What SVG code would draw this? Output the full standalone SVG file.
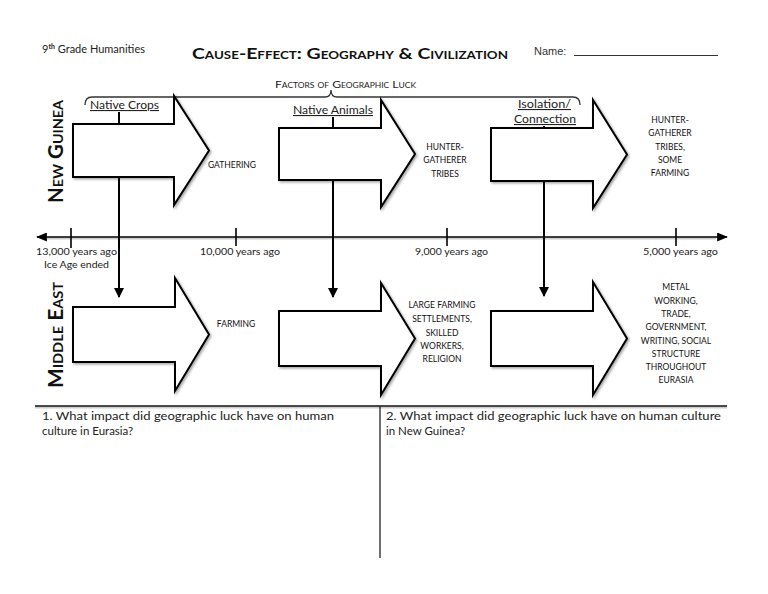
<svg xmlns="http://www.w3.org/2000/svg" width="768" height="594" viewBox="0 0 768 594">
<defs>
<style>
.bg{fill:#ffffff}
.arr{fill:#ffffff;stroke:#000;stroke-width:2;stroke-linejoin:miter;filter:url(#sh)}
.conn{stroke:#000;stroke-width:2;fill:none}
.tick{stroke:#000;stroke-width:1.6}
.lab{font-family:Lato,"Open Sans",sans-serif;font-size:8.5px;fill:#111;text-anchor:middle;letter-spacing:0px}
.tl{font-family:Lato,"Open Sans",sans-serif;font-size:9.5px;fill:#222}
.hd{font-family:Lato,"Open Sans",sans-serif;font-size:11px;fill:#222;text-decoration:underline}
.q{font-family:Lato,"Open Sans",sans-serif;font-size:11.5px;fill:#222}
.side{font-family:Lato,"Open Sans",sans-serif;font-size:20px;font-weight:bold;font-variant:small-caps;fill:#111;text-anchor:middle}
</style>
<filter id="sh" x="-10%" y="-10%" width="130%" height="130%">
<feDropShadow dx="1.5" dy="1.5" stdDeviation="0.8" flood-color="#000" flood-opacity="0.35"/>
</filter>
<marker id="ah" viewBox="0 0 10 10" refX="9" refY="5" markerWidth="10" markerHeight="10" markerUnits="userSpaceOnUse" orient="auto">
<path d="M0,0 L10,5 L0,10 Z" fill="#000"/>
</marker>
<marker id="th" viewBox="0 0 12 10" refX="11" refY="5" markerWidth="12" markerHeight="9" markerUnits="userSpaceOnUse" orient="auto-start-reverse">
<path d="M0,0 L12,5 L0,10 Z" fill="#000"/>
</marker>
</defs>
<rect class="bg" x="0" y="0" width="768" height="594"/>

<g id="header">
<text x="42" y="53" font-family="Lato,'Open Sans',sans-serif" font-size="11" fill="#222">9<tspan font-size="7" dy="-4" font-weight="bold">th</tspan><tspan dy="4"> Grade Humanities</tspan></text>
<text x="192" y="59" font-family="Lato,'Open Sans',sans-serif" font-size="16" font-weight="bold" font-variant="small-caps" fill="#111" textLength="316" lengthAdjust="spacingAndGlyphs">Cause-Effect: Geography &amp; Civilization</text>
<text x="534" y="55" font-family="'Liberation Sans',Arial,sans-serif" font-size="11" fill="#333">Name:</text>
<line x1="574" y1="55.5" x2="718" y2="55.5" stroke="#333" stroke-width="1"/>
</g>

<g id="brace">
<text x="345.5" y="88" font-family="Lato,'Open Sans',sans-serif" font-size="10" font-variant="small-caps" fill="#222" text-anchor="middle" textLength="141" lengthAdjust="spacingAndGlyphs">Factors of Geographic Luck</text>
<path d="M85,105 Q85,97 92,97 L325,97 Q331,97 331,90 Q331,97 337,97 L573,97 Q580,97 580,105" fill="none" stroke="#333" stroke-width="1.3"/>
</g>

<g id="labels">
<text class="side" transform="translate(63,151.5) rotate(-90)" textLength="103" lengthAdjust="spacingAndGlyphs">New Guinea</text>
<text class="side" transform="translate(63,335) rotate(-90)" textLength="106" lengthAdjust="spacingAndGlyphs">Middle East</text>
</g>

<g id="connectors">
<line class="conn" x1="119" y1="112" x2="119" y2="297" marker-end="url(#ah)"/>
<line class="conn" x1="333" y1="117" x2="333" y2="297" marker-end="url(#ah)"/>
<line class="conn" x1="544" y1="126" x2="544" y2="296" marker-end="url(#ah)"/>
</g>

<g id="timeline">
<line x1="44" y1="238.5" x2="716" y2="238.5" stroke="#000" stroke-opacity="0.2" stroke-width="2"/>
<line x1="37" y1="237" x2="727" y2="237" stroke="#000" stroke-width="1.6" marker-start="url(#th)" marker-end="url(#th)"/>
<line class="tick" x1="71" y1="228" x2="71" y2="248"/>
<line class="tick" x1="236" y1="228" x2="236" y2="246"/>
<line class="tick" x1="447" y1="228" x2="447" y2="246"/>
<line class="tick" x1="676" y1="228" x2="676" y2="246"/>
<text class="tl" x="36" y="255" textLength="81" lengthAdjust="spacingAndGlyphs">13,000 years ago</text>
<text class="tl" x="44" y="268" textLength="65" lengthAdjust="spacingAndGlyphs">Ice Age ended</text>
<text class="tl" x="200" y="255" textLength="80" lengthAdjust="spacingAndGlyphs">10,000 years ago</text>
<text class="tl" x="415" y="255" textLength="73" lengthAdjust="spacingAndGlyphs">9,000 years ago</text>
<text class="tl" x="643" y="255" textLength="75" lengthAdjust="spacingAndGlyphs">5,000 years ago</text>
</g>

<g id="ng-crops">
<polygon class="arr" points="73,124 174,124 174,96 209,150.5 174,205 174,177 73,177"/>
<text class="hd" x="90" y="109" textLength="69" lengthAdjust="spacingAndGlyphs">Native Crops</text>
<text class="lab" x="232" y="168">GATHERING</text>
</g>
<g id="ng-animals">
<polygon class="arr" points="279,128 381,128 381,100 415,154 381,207 381,180 279,180"/>
<text class="hd" x="293" y="114" textLength="80" lengthAdjust="spacingAndGlyphs">Native Animals</text>
<text class="lab" x="445" y="150">HUNTER-</text>
<text class="lab" x="445" y="163">GATHERER</text>
<text class="lab" x="445" y="177">TRIBES</text>
</g>
<g id="ng-isolation">
<polygon class="arr" points="491,128 593,128 593,100 627,154.5 593,208 593,181 491,181"/>
<text class="hd" x="544.5" y="108" text-anchor="middle" textLength="53" lengthAdjust="spacingAndGlyphs">Isolation/</text>
<text class="hd" x="545" y="123" text-anchor="middle" textLength="62" lengthAdjust="spacingAndGlyphs">Connection</text>
<text class="lab" x="670" y="123">HUNTER-</text>
<text class="lab" x="670" y="136">GATHERER</text>
<text class="lab" x="670" y="150">TRIBES,</text>
<text class="lab" x="670" y="163">SOME</text>
<text class="lab" x="670" y="176">FARMING</text>
</g>

<g id="me-crops">
<polygon class="arr" points="73,307 175,307 175,278 209,334.5 175,391 175,362 73,362"/>
<text class="lab" x="236" y="327">FARMING</text>
</g>
<g id="me-animals">
<polygon class="arr" points="279,311 381,311 381,283 415,338.5 381,395 381,366 279,366"/>
<text class="lab" x="442" y="308">LARGE FARMING</text>
<text class="lab" x="442" y="322">SETTLEMENTS,</text>
<text class="lab" x="442" y="336">SKILLED</text>
<text class="lab" x="442" y="349">WORKERS,</text>
<text class="lab" x="442" y="362">RELIGION</text>
</g>
<g id="me-isolation">
<polygon class="arr" points="491,311 593,311 593,282 627,338.5 593,395 593,366 491,366"/>
<text class="lab" x="676" y="290">METAL</text>
<text class="lab" x="676" y="304">WORKING,</text>
<text class="lab" x="676" y="317">TRADE,</text>
<text class="lab" x="676" y="330">GOVERNMENT,</text>
<text class="lab" x="676" y="344">WRITING, SOCIAL</text>
<text class="lab" x="676" y="357">STRUCTURE</text>
<text class="lab" x="676" y="370">THROUGHOUT</text>
<text class="lab" x="676" y="383">EURASIA</text>
</g>

<g id="questions">
<line x1="35" y1="407.5" x2="727" y2="407.5" stroke="#000" stroke-opacity="0.2" stroke-width="2"/>
<line x1="35" y1="406" x2="727" y2="406" stroke="#111" stroke-width="1.3"/>
<line x1="380" y1="406" x2="380" y2="558" stroke="#222" stroke-width="1.3"/>
<text class="q" x="42" y="420" textLength="292" lengthAdjust="spacingAndGlyphs">1. What impact did geographic luck have on human</text>
<text class="q" x="42" y="435">culture in Eurasia?</text>
<text class="q" x="386" y="420" textLength="335" lengthAdjust="spacingAndGlyphs">2. What impact did geographic luck have on human culture</text>
<text class="q" x="386" y="435">in New Guinea?</text>
</g>
</svg>
